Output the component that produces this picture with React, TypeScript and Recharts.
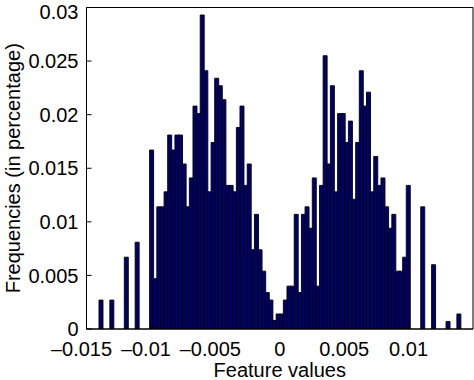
import { BarChart, Bar, XAxis, YAxis, ReferenceArea, Label } from "recharts";

// histogram: 100 equal bins between the data min and max
const BIN_RANGE = [-0.01403, 0.01403];
const frequencies = [
  0.0027, 0, 0, 0.0027, 0, 0, 0, 0.0067, 0, 0,
  0.0081, 0, 0, 0, 0.0167, 0.0047, 0.0114, 0.0114, 0.0128, 0.0181,
  0.0167, 0.0181, 0.0181, 0.0154, 0.0114, 0.0141, 0.0208, 0.0201, 0.0293, 0.0241,
  0.0128, 0.0174, 0.0234, 0.0227, 0.0214, 0.0134, 0.0134, 0.0128, 0.0188, 0.0208,
  0.0134, 0.0154, 0.0074, 0.0107, 0.0074, 0.0054, 0.0034, 0.0027, 0.0008, 0.0014,
  0.0014, 0.0027, 0.004, 0.004, 0.0107, 0.0034, 0.0107, 0.0114, 0.0094, 0.0141,
  0.004, 0.0134, 0.0255, 0.0154, 0.0227, 0.0128, 0.0201, 0.0201, 0.0174, 0.0194,
  0.0121, 0.0174, 0.0241, 0.0208, 0.0221, 0.0128, 0.0161, 0.0134, 0.0141, 0.0114,
  0.0094, 0.0107, 0.0054, 0.0054, 0.0067, 0.0134, 0, 0, 0, 0.0114,
  0, 0, 0.006, 0, 0, 0, 0.0007, 0, 0, 0.0014,
];
const xTicks = [-0.015, -0.01, -0.005, 0, 0.005, 0.01];
const yTicks = [0, 0.005, 0.01, 0.015, 0.02, 0.025, 0.03];
const X_DOMAIN = [-0.015, 0.015];
const Y_DOMAIN = [0, 0.03];

const binWidth = (BIN_RANGE[1] - BIN_RANGE[0]) / frequencies.length;
const data = frequencies.map((freq, i) => ({
  x: BIN_RANGE[0] + (i + 0.5) * binWidth,
  freq,
}));

const FONT = "'Liberation Sans', Arial, Helvetica, sans-serif";
const fmt = (v: number) => String(v).replace("-", "\u2013");
const tickStyle = { fill: "#000", fontSize: 20, fontFamily: FONT };

// matlab-ish: the minus sign hangs to the left of the centred number
const XTick = (props: any) => {
  const { x, y, payload } = props;
  const v = payload.value as number;
  return (
    <text
      x={x + (v < 0 ? -5 : 0)}
      y={y}
      dy="0.71em"
      textAnchor="middle"
      fill="#000"
      fontSize={20}
      fontFamily={FONT}
    >
      {fmt(v)}
    </text>
  );
};

const YTitle = (props: any) => {
  const vb = props.viewBox;
  const cy = vb.y + vb.height / 2;
  const x = vb.x + 20;
  return (
    <text
      x={x}
      y={cy}
      transform={`rotate(-90 ${x} ${cy})`}
      textAnchor="middle"
      fill="#000"
      fontSize={20}
      fontFamily={FONT}
    >
      Frequencies (in percentage)
    </text>
  );
};

export default function App() {
  return (
    <div style={{ width: 474, height: 380, background: "#fff" }}>
      <style>{`body { margin: 0; }`}</style>
      <BarChart
        width={474}
        height={380}
        data={data}
        margin={{ top: 7.5, right: 1, bottom: 0, left: 0 }}
        barCategoryGap={0}
        barGap={0}
      >
        <XAxis
          dataKey="x"
          type="number"
          domain={X_DOMAIN}
          ticks={xTicks}
          height={51}
          tickSize={-5}
          tickMargin={18}
          stroke="#000"
          tick={<XTick />}
          allowDataOverflow
        >
          <Label
            value="Feature values"
            position="insideBottom"
            offset={3}
            fill="#000"
            fontSize={20}
            fontFamily={FONT}
          />
        </XAxis>
        <XAxis
          xAxisId="top"
          orientation="top"
          type="number"
          domain={X_DOMAIN}
          ticks={xTicks}
          height={0}
          tickSize={-5}
          tick={false}
          stroke="#000"
          allowDataOverflow
        />
        <YAxis
          type="number"
          domain={Y_DOMAIN}
          ticks={yTicks}
          tickFormatter={fmt}
          width={86.5}
          tickSize={-5}
          tickMargin={13}
          stroke="#000"
          tick={tickStyle}
          allowDataOverflow
        >
          <Label content={YTitle} />
        </YAxis>
        <YAxis
          yAxisId="right"
          orientation="right"
          type="number"
          domain={Y_DOMAIN}
          ticks={yTicks}
          width={0}
          tickSize={-5}
          tick={false}
          stroke="#000"
          allowDataOverflow
        />
        <Bar
          dataKey="freq"
          fill="#00006a"
          stroke="#000"
          strokeWidth={0.9}
          isAnimationActive={false}
        />
        <ReferenceArea
          x1={X_DOMAIN[0]}
          x2={X_DOMAIN[1]}
          y1={Y_DOMAIN[0]}
          y2={Y_DOMAIN[1]}
          fill="none"
          stroke="#000"
          strokeWidth={1}
          ifOverflow="visible"
        />
      </BarChart>
    </div>
  );
}
